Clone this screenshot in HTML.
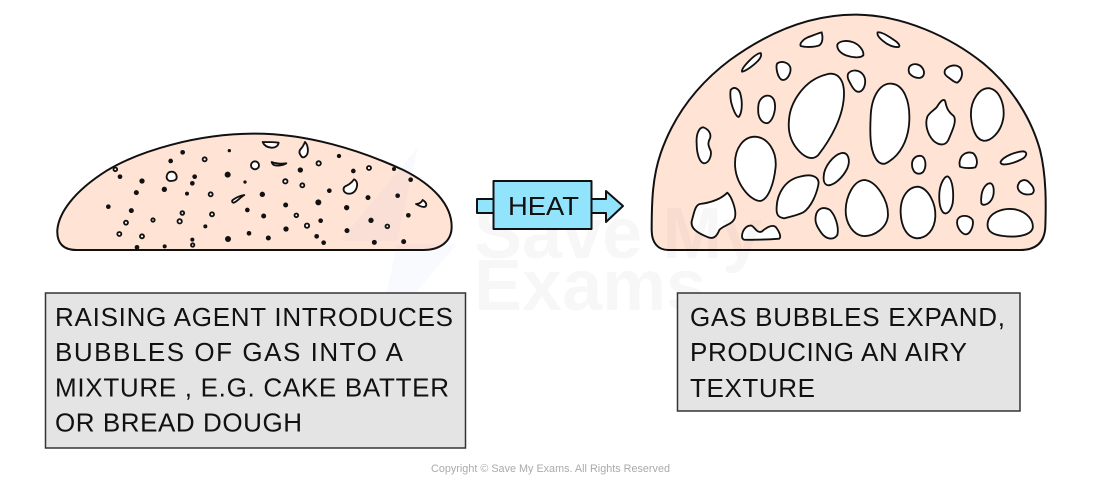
<!DOCTYPE html>
<html><head><meta charset="utf-8"><style>
html,body{margin:0;padding:0;background:#fff}
svg{display:block}
.t{font-family:"Liberation Sans",sans-serif;font-size:26px;fill:#111}
.w{font-family:"Liberation Sans",sans-serif;font-weight:bold;fill:#000;fill-opacity:.03}
</style></head><body>
<svg width="1100" height="483" viewBox="0 0 1100 483" xmlns="http://www.w3.org/2000/svg">
<rect width="1100" height="483" fill="#fff"/>

<!-- left loaf -->
<g transform="translate(40,130) scale(.33333)" stroke="#111" stroke-width="5.5" stroke-linejoin="round">
<path fill="#ffe4d6" stroke-width="6" d="M52 300C56 250 100 185 200 122C300 62 470 12 640 11C800 10 960 60 1090 120C1180 165 1235 225 1235 290C1235 335 1200 360 1150 360L110 360C70 360 50 340 52 300Z"/>
<g fill="#111" stroke="none">
<circle cx="428" cy="67" r="7"/><circle cx="568" cy="62" r="5"/><circle cx="392" cy="93" r="7"/><circle cx="897" cy="78" r="6.5"/><circle cx="240" cy="140" r="7"/><circle cx="464" cy="140" r="7"/><circle cx="306" cy="153" r="8"/><circle cx="457" cy="160" r="7"/><circle cx="615" cy="156" r="5"/><circle cx="781" cy="120" r="8"/><circle cx="940" cy="123" r="7"/><circle cx="1062" cy="117" r="6"/><circle cx="1112" cy="149" r="7"/><circle cx="373" cy="178" r="8"/><circle cx="289" cy="188" r="7.5"/><circle cx="441" cy="191" r="6"/><circle cx="667" cy="193" r="8"/><circle cx="868" cy="182" r="7"/><circle cx="984" cy="203" r="7.5"/><circle cx="1073" cy="197" r="7"/><circle cx="205" cy="230" r="7"/><circle cx="274" cy="242" r="7.5"/><circle cx="622" cy="240" r="7"/><circle cx="737" cy="225" r="7.5"/><circle cx="920" cy="233" r="8"/><circle cx="671" cy="258" r="7.5"/><circle cx="1105" cy="256" r="7"/><circle cx="842" cy="272" r="7"/><circle cx="993" cy="271" r="8"/><circle cx="496" cy="289" r="6"/><circle cx="738" cy="297" r="8"/><circle cx="921" cy="302" r="7.5"/><circle cx="627" cy="310" r="7"/><circle cx="685" cy="324" r="7.5"/><circle cx="830" cy="319" r="7"/><circle cx="851" cy="338" r="7"/><circle cx="564" cy="327" r="9"/><circle cx="457" cy="329" r="6"/><circle cx="291" cy="352" r="7"/><circle cx="374" cy="349" r="6"/><circle cx="1003" cy="337" r="7.5"/><circle cx="1091" cy="335" r="7.5"/><circle cx="835" cy="217" r="9"/><circle cx="563" cy="134" r="9"/>
</g>
<g fill="#fff">
<circle cx="226" cy="118" r="5.5"/><circle cx="494" cy="88" r="6"/><circle cx="836" cy="100" r="6.5"/><circle cx="987" cy="114" r="6"/><circle cx="736" cy="154" r="6.5"/><circle cx="787" cy="166" r="6"/><circle cx="512" cy="193" r="6"/><circle cx="427" cy="249" r="5.5"/><circle cx="516" cy="253" r="6"/><circle cx="339" cy="270" r="5"/><circle cx="258" cy="278" r="6"/><circle cx="419" cy="274" r="6.5"/><circle cx="769" cy="256" r="5.5"/><circle cx="801" cy="287" r="6.5"/><circle cx="1042" cy="289" r="5.5"/><circle cx="238" cy="312" r="6"/><circle cx="306" cy="319" r="6"/><circle cx="458" cy="345" r="5"/>
<path d="M395 125C405 125 411 134 410 143C409 152 400 152 393 153C385 154 379 147 380 139C381 131 386 125 395 125Z"/>
<circle cx="645" cy="106" r="12"/>
<path d="M668 36C682 36 702 36 716 38C714 48 706 54 694 53C682 52 672 46 668 36Z"/>
<path d="M795 36C803 44 806 60 802 72C798 80 790 85 785 80C778 72 775 64 783 56C789 50 791 44 795 36Z"/>
<path d="M695 96C705 100 722 102 739 100C728 107 710 108 702 105C698 103 696 100 695 96Z"/>
<path d="M613 195C600 197 588 203 578 210C574 215 578 220 584 217C592 213 600 203 613 195Z"/>
<path d="M942 148C952 152 954 165 948 178C942 190 930 193 920 190C910 186 908 176 914 170C924 165 934 160 942 148Z"/>
<path d="M1148 210C1158 216 1162 224 1156 230C1148 233 1138 228 1128 222C1136 222 1144 218 1148 210Z"/>
</g>
</g>

<!-- right loaf -->
<g transform="translate(640,20) scale(.33333)" stroke="#111" stroke-width="5.5" stroke-linejoin="round">
<path fill="#ffe4d6" stroke-width="6" d="M85 690C55 690 35 670 35 630C35 540 38 470 62 400C100 290 170 195 270 120C380 40 510 -17 650 -16C790 -14 930 50 1030 130C1120 205 1175 300 1200 390C1220 470 1218 560 1216 620C1214 665 1190 690 1140 690Z"/>
<g fill="#fff">
<path d="M545 37C549 50 549 68 538 76C522 82 495 82 482 78C478 70 490 58 503 52C518 47 532 40 545 37Z"/>
<path d="M592 74C598 62 622 60 640 67C658 74 672 92 670 106C660 116 635 112 618 106C602 100 590 88 592 74Z"/>
<path d="M713 37C725 35 745 48 762 60C775 68 782 78 776 81C760 82 742 74 728 62C718 54 710 45 713 37Z"/>
<path d="M362 99C367 108 358 120 345 131C332 142 316 153 306 155C304 148 316 134 328 122C340 110 352 100 362 99Z"/>
<path d="M412 130C425 122 445 126 451 142C454 158 444 178 430 180C418 180 412 162 410 148C409 140 409 134 412 130Z"/>
<path d="M625 160C636 148 658 148 670 165C680 180 676 205 662 214C650 220 640 208 632 192C625 180 620 170 625 160Z"/>
<path d="M810 138C822 128 840 132 848 145C856 158 852 172 838 174C826 174 816 170 808 160C805 152 805 144 810 138Z"/>
<path d="M915 150C925 136 950 130 962 145C970 160 966 178 952 188C942 188 932 176 922 170C915 165 912 158 915 150Z"/>
<path d="M272 210C282 198 298 205 302 225C308 250 306 280 296 291C288 290 278 266 273 245C271 232 270 220 272 210Z"/>
<path d="M358 245C368 224 392 220 402 240C410 262 402 296 386 308C372 314 358 300 355 280C354 266 354 254 358 245Z"/>
<path d="M447 300C450 250 490 180 560 163C590 155 612 175 612 220C612 290 570 360 535 405C515 425 490 410 470 385C450 360 444 330 447 300Z"/>
<path d="M692 290C694 230 720 188 755 191C790 194 810 240 808 300C806 360 780 410 735 431C710 436 695 400 692 360C690 335 691 310 692 290Z"/>
<path d="M890 262C900 245 912 232 916 245C920 265 925 275 940 287C952 300 938 330 925 360C915 380 895 375 880 362C860 340 855 310 862 290C868 278 880 272 890 262Z"/>
<path d="M993 290C990 240 1020 200 1050 205C1080 212 1095 255 1090 295C1082 340 1050 365 1030 362C1005 358 995 320 993 290Z"/>
<path d="M170 370C168 345 176 322 190 322C205 328 215 340 210 355C202 368 205 378 212 392C216 410 205 430 192 430C178 428 170 400 170 370Z"/>
<path d="M285 430C285 385 310 350 345 350C385 352 410 395 407 440C402 490 385 540 360 543C330 542 285 490 285 430Z"/>
<path d="M551 470C552 440 580 405 605 399C625 396 632 420 622 445C610 470 585 495 565 496C555 495 550 485 551 470Z"/>
<path d="M816 435C815 415 830 405 845 408C858 415 860 440 850 455C840 465 825 462 820 450C817 445 816 440 816 435Z"/>
<path d="M960 420C965 400 985 393 1000 400C1012 412 1014 430 1006 442C990 446 970 444 960 440C958 432 958 426 960 420Z"/>
<path d="M1082 425C1090 410 1125 395 1150 394C1165 396 1160 412 1140 420C1120 430 1095 436 1085 432C1082 430 1081 428 1082 425Z"/>
<path d="M410 560C412 520 435 480 480 470C515 460 540 470 535 495C530 520 515 560 490 577C470 587 450 590 432 595C415 592 408 585 410 560Z"/>
<path d="M617 570C618 530 640 480 675 480C710 485 745 540 744 585C742 625 700 650 670 648C640 645 616 610 617 570Z"/>
<path d="M782 580C780 530 805 500 835 500C865 505 888 550 886 590C884 630 860 655 830 655C800 652 784 620 782 580Z"/>
<path d="M898 520C900 490 915 465 925 470C938 480 942 520 938 550C932 575 920 585 910 578C898 565 897 540 898 520Z"/>
<path d="M1024 530C1026 505 1040 488 1052 490C1064 495 1064 525 1054 540C1044 555 1028 558 1024 550C1023 542 1023 536 1024 530Z"/>
<path d="M1134 495C1140 478 1158 475 1170 490C1182 502 1186 515 1175 522C1160 526 1145 522 1137 512C1133 506 1132 500 1134 495Z"/>
<path d="M527 590C530 565 550 558 570 570C585 585 598 620 592 645C582 660 560 660 545 640C532 622 524 608 527 590Z"/>
<path d="M952 600C958 585 985 582 998 600C1002 618 990 645 975 643C962 638 948 620 952 600Z"/>
<path d="M1043 610C1046 580 1085 562 1125 568C1160 575 1182 600 1178 625C1170 650 1120 652 1090 648C1060 645 1040 635 1043 610Z"/>
<path d="M156 600C162 580 165 555 180 552C210 548 240 540 262 518C275 530 290 570 285 592C278 615 250 615 238 630C230 650 220 660 200 650C175 640 148 625 156 600Z"/>
<path d="M306 650C306 630 320 615 335 617C345 622 350 640 365 635C380 622 398 612 408 622C416 632 425 650 418 656C390 658 340 660 312 659C308 657 306 654 306 650Z"/>
</g>
</g>

<!-- watermark -->
<path d="M418 147L340 241L397 241Z" fill="#4a6fd0" fill-opacity=".035"/>
<path d="M397 244L457 244L377 338Z" fill="#4a6fd0" fill-opacity=".035"/>
<text class="w" x="474" y="258" font-size="72">Save My</text>
<text class="w" x="474" y="310" font-size="72">Exams</text>

<!-- arrow -->
<g stroke="#111" stroke-width="2" stroke-linejoin="round" fill="#91e4fc">
<rect x="477" y="199" width="17" height="14"/>
<path d="M591 199L606 199L606 191L623 206L606 222L606 213L591 213Z"/>
<rect x="493.5" y="181" width="98" height="48"/>
</g>
<text class="t" x="508" y="215" textLength="71" lengthAdjust="spacingAndGlyphs">HEAT</text>

<!-- boxes -->
<rect x="45.5" y="293" width="420" height="155" fill="#e4e4e4" stroke="#333" stroke-width="1.5"/>
<rect x="677.5" y="293" width="342.5" height="118" fill="#e4e4e4" stroke="#333" stroke-width="1.5"/>
<text class="t" x="55" y="326" textLength="398" lengthAdjust="spacing">RAISING AGENT INTRODUCES</text>
<text class="t" x="55" y="361" textLength="348" lengthAdjust="spacing">BUBBLES OF GAS INTO A</text>
<text class="t" x="55" y="396.5" textLength="394" lengthAdjust="spacing">MIXTURE , E.G. CAKE BATTER</text>
<text class="t" x="55" y="431.5" textLength="247" lengthAdjust="spacing">OR BREAD DOUGH</text>
<text class="t" x="690" y="326" textLength="315" lengthAdjust="spacing">GAS BUBBLES EXPAND,</text>
<text class="t" x="690" y="361" textLength="277" lengthAdjust="spacing">PRODUCING AN AIRY</text>
<text class="t" x="690" y="397" textLength="125" lengthAdjust="spacing">TEXTURE</text>

<text x="431" y="472" font-family="'Liberation Sans',sans-serif" font-size="10.8" textLength="239" fill="#aaa">Copyright © Save My Exams. All Rights Reserved</text>
</svg>
</body></html>
